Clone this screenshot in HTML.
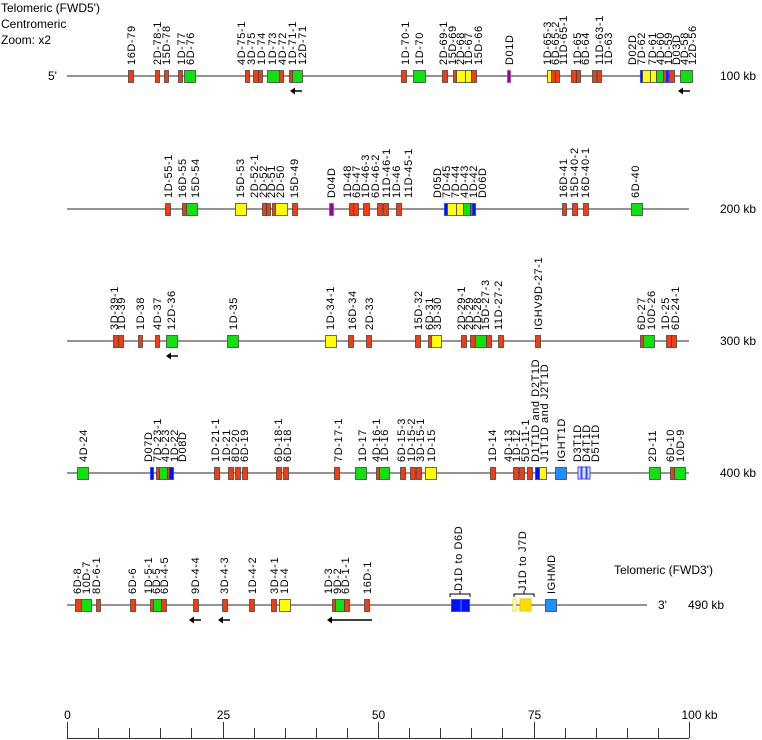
<!DOCTYPE html>
<html><head><meta charset="utf-8"><style>
html,body{margin:0;padding:0;background:#fff;}
svg{display:block;font-family:"Liberation Sans",sans-serif;}
</style></head><body>
<svg id="s" width="762" height="740" xmlns="http://www.w3.org/2000/svg">
<text x="1" y="12" font-size="12">Telomeric (FWD5')</text>
<text x="1" y="28" font-size="12">Centromeric</text>
<text x="1" y="44" font-size="12">Zoom: x2</text>
<text x="48" y="80" font-size="12">5'</text>
<text x="720" y="80" font-size="12">100 kb</text>
<text x="720" y="213" font-size="12">200 kb</text>
<text x="720" y="345" font-size="12">300 kb</text>
<text x="720" y="477" font-size="12">400 kb</text>
<text x="614" y="574" font-size="12">Telomeric (FWD3')</text>
<text x="658" y="609" font-size="12">3'</text>
<text x="688" y="609" font-size="12">490 kb</text>
<g id="g"></g>
</svg>
<script>
var R='#f23c12',G='#11e011',Y='#ffff00',B='#0010ff',P='#990099',L='#1e90ff';
var rows=[
{y:76,end:689,boxes:[[128,133,R],[155,159,R],[164,168,R],[178,182,R],[184,195,G],[245,249,R],[253,258,R],[258,262,R],[267,279,G],[279,283,R],[289,292,R],[292,302,G],
[401,406,R],[413,425,G],[442,447,R],[453,456,R],[456,465,Y],[465,471,Y],[471,476,R],[507,510,P],[547,551,Y],[551,555,R],[555,559,R],[571,576,R],[576,580,R],[592,596,R],[597,601,R],
[640,642,B],[642,650,Y],[650,656,Y],[656,663,G],[663,666,R],[666,668,B],[669,674,R],[680,692,G]],
labels:[[131,'16D-79'],[157,'2D-78-1'],[166,'15D-78'],[181,'1D-77'],[190,'6D-76'],[241,'4D-75-1'],[251,'3D-75'],[261,'1D-74'],[272,'1D-73'],[282,'4D-72'],[292,'1D-71-1'],[302,'12D-71'],
[405,'1D-70-1'],[419,'1D-70'],[443,'2D-69-1'],[452,'15D-69'],[460,'2D-68'],[468,'1D-67'],[478,'15D-66'],[509,'D01D'],[547,'1D-65-3'],[555,'6D-65-2'],[563,'11D-65-1'],[577,'1D-65'],[585,'6D-64'],[599,'11D-63-1'],[608,'1D-63'],
[632,'D02D'],[641,'7D-62'],[652,'7D-61'],[660,'4D-60'],[668,'1D-59'],[676,'D03D'],[684,'4D-58'],[692,'12D-56']],
arrows:[[290,302],[678,690]]},
{y:209,end:689,boxes:[[165,170,R],[182,186,R],[186,197,G],[235,246,Y],[262,266,R],[266,270,R],[272,275,R],[275,287,Y],[292,297,R],[329,333,P],[349,353,R],[353,358,R],[363,369,R],[377,382,R],[383,388,R],[396,401,R],
[444,447,B],[447,456,Y],[456,463,Y],[463,470,G],[470,472,R],[472,475,B],[562,566,R],[572,577,R],[583,588,R],[631,642,G]],
labels:[[168,'1D-55-1'],[182,'16D-55'],[195,'15D-54'],[240,'15D-53'],[254,'2D-52-1'],[263,'2D-52'],[271,'2D-51'],[280,'2D-50'],[294,'15D-49'],[331,'D04D'],[347,'1D-48'],[356,'6D-47'],[365,'1D-46-3'],[375,'6D-46-2'],[386,'11D-46-1'],[396,'1D-46'],[408,'11D-45-1'],
[437,'D05D'],[446,'7D-45'],[455,'7D-44'],[464,'4D-43'],[473,'1D-42'],[482,'D06D'],[563,'16D-41'],[574,'15D-40-2'],[585,'16D-40-1'],[635,'6D-40']],arrows:[]},
{y:341,end:689,boxes:[[113,118,R],[118,123,R],[138,142,R],[155,159,R],[166,177,G],[227,238,G],[325,336,Y],[348,353,R],[366,371,R],[415,420,R],[428,431,R],[431,441,Y],[461,466,R],[470,475,R],[475,486,G],[486,491,R],[498,503,R],[535,540,R],[640,643,R],[643,654,G],[666,671,R],[671,676,R]],
labels:[[114,'3D-39-1'],[121,'1D-39'],[140,'1D-38'],[157,'4D-37'],[171,'12D-36'],[233,'1D-35'],[330,'1D-34-1'],[352,'16D-34'],[369,'2D-33'],[418,'15D-32'],[429,'6D-31'],[437,'3D-30'],[461,'2D-29-1'],[469,'2D-29'],[477,'2D-28'],[485,'15D-27-3'],[498,'11D-27-2'],[538,'IGHV9D-27-1'],[641,'6D-27'],[651,'10D-26'],[665,'1D-25'],[675,'6D-24-1']],
arrows:[[166,178]]},
{y:473,end:689,boxes:[[77,88,G],[150,153,B],[156,159,R],[159,167,G],[167,169,R],[169,173,B],[214,219,R],[228,233,R],[235,240,R],[242,247,R],[276,281,R],[283,288,R],[334,339,R],[355,366,G],[376,379,R],[379,389,G],[400,405,R],[410,415,R],[416,421,R],[425,436,Y],[490,495,R],[513,518,R],[519,524,R],[527,532,R],[535,539,B],[539,546,Y],[555,566,L],[578,581,'h'],[582,586,'h'],[587,590,'h'],[649,660,G],[670,674,R],[674,685,G]],
labels:[[83,'4D-24'],[148,'D07D'],[157,'7D-23-1'],[165,'4D-23'],[174,'1D-22'],[182,'D08D'],[215,'1D-21-1'],[226,'1D-21'],[235,'8D-20'],[244,'6D-19'],[278,'6D-18-1'],[287,'6D-18'],[338,'7D-17-1'],[362,'1D-17'],[376,'4D-16-1'],[384,'1D-16'],[401,'6D-15-3'],[411,'1D-15-2'],[420,'3D-15-1'],[431,'1D-15'],[492,'1D-14'],[508,'4D-13'],[516,'1D-12'],[525,'5D-11-1'],[535,'D1T1D and D2T1D'],[544,'J1T1D and J2T1D'],[561,'IGHT1D'],[577,'D3T1D'],[586,'D4T1D'],[595,'D5T1D'],[652,'2D-11'],[670,'6D-10'],[680,'10D-9']],arrows:[]},
{y:605,end:647,boxes:[[75,81,R],[81,91,G],[96,100,R],[130,135,R],[150,153,R],[153,161,G],[161,166,R],[193,198,R],[222,227,R],[249,254,R],[271,276,R],[279,290,Y],[332,335,R],[335,344,G],[344,349,R],[364,369,R],[451,460,B],[461,469,B],[513,516,'yh'],[520,531,'Y2'],[545,556,L]],
labels:[[77,'6D-8'],[86,'10D-7'],[96,'8D-6-1'],[132,'6D-6'],[148,'1D-5-1'],[156,'6D-5'],[164,'6D-4-5'],[195,'9D-4-4'],[224,'3D-4-3'],[252,'1D-4-2'],[274,'3D-4-1'],[284,'1D-4'],[328,'1D-3'],[337,'9D-2'],[345,'6D-1-1'],[367,'16D-1'],[458,'D1D to D6D'],[522,'J1D to J7D'],[551,'IGHMD']],
arrows:[[189,201],[218,230],[327,372]]}
];
var h='';
rows.forEach(function(r){
 h+='<line x1="67" y1="'+r.y+'" x2="'+r.end+'" y2="'+r.y+'" stroke="#555" stroke-width="1.3"/>';
 r.boxes.forEach(function(b){
  var c=b[2],w=b[1]-b[0],y=r.y-6;
  if(c=='h'){h+='<rect x="'+b[0]+'" y="'+y+'" width="'+w+'" height="12" fill="#dfe6ff" stroke="#3344ff" stroke-width="1"/>';return;}
  if(c=='yh'){h+='<rect x="'+b[0]+'" y="'+y+'" width="'+w+'" height="12" fill="#fff" stroke="#ffdd00" stroke-width="1"/>';return;}
  if(c=='Y2'){h+='<rect x="'+b[0]+'" y="'+y+'" width="'+w+'" height="12" fill="#ffdd00" stroke="#e8c800"/>';return;}
  var st=(c==B)?'#2233ff':(c==P?'#aa44aa':'#444');
  h+='<rect x="'+(b[0]+0.5)+'" y="'+(y+0.5)+'" width="'+w+'" height="12" fill="'+c+'" stroke="'+st+'" stroke-width="1" stroke-opacity="0.8"/>';
 });
 r.labels.forEach(function(l){
  var ly=r.y-11; if(r.y==605&&(l[1].indexOf(' to ')>0))ly=r.y-14;
  h+='<text font-size="11" letter-spacing="0.6" transform="translate('+(l[0]+4)+','+ly+') rotate(-90)">'+l[1]+'</text>';
 });
 r.arrows.forEach(function(a){
  var ay=r.y+15;
  h+='<line x1="'+(a[0]+3)+'" y1="'+ay+'" x2="'+a[1]+'" y2="'+ay+'" stroke="#000" stroke-width="1.5"/><path d="M'+a[0]+' '+ay+' l5 -3.5 v7 z" fill="#000"/>';
 });
});
[[450,470],[514,534]].forEach(function(b){
 h+='<path d="M'+b[0]+' 597 v-3 h'+(b[1]-b[0])+' v3 M'+((b[0]+b[1])/2)+' 594 v-3" fill="none" stroke="#000" stroke-width="1"/>';
});
h+='<line x1="67" y1="738.5" x2="689" y2="738.5" stroke="#333" stroke-width="1"/>';
for(var k=0;k<=100;k+=5){var x=67+k*6.22;x=Math.round(x)+0.5;
 var big=k%25==0;h+='<line x1="'+x+'" y1="'+(big?722:728)+'" x2="'+x+'" y2="738" stroke="#333" stroke-width="1"/>';
 if(big)h+='<text x="'+(k==100?x-8:x)+'" y="719" font-size="12" text-anchor="'+(k==100?'start':'middle')+'">'+(k==100?'100 kb':k)+'</text>';}
document.getElementById('g').innerHTML=h;
</script>
</body></html>
